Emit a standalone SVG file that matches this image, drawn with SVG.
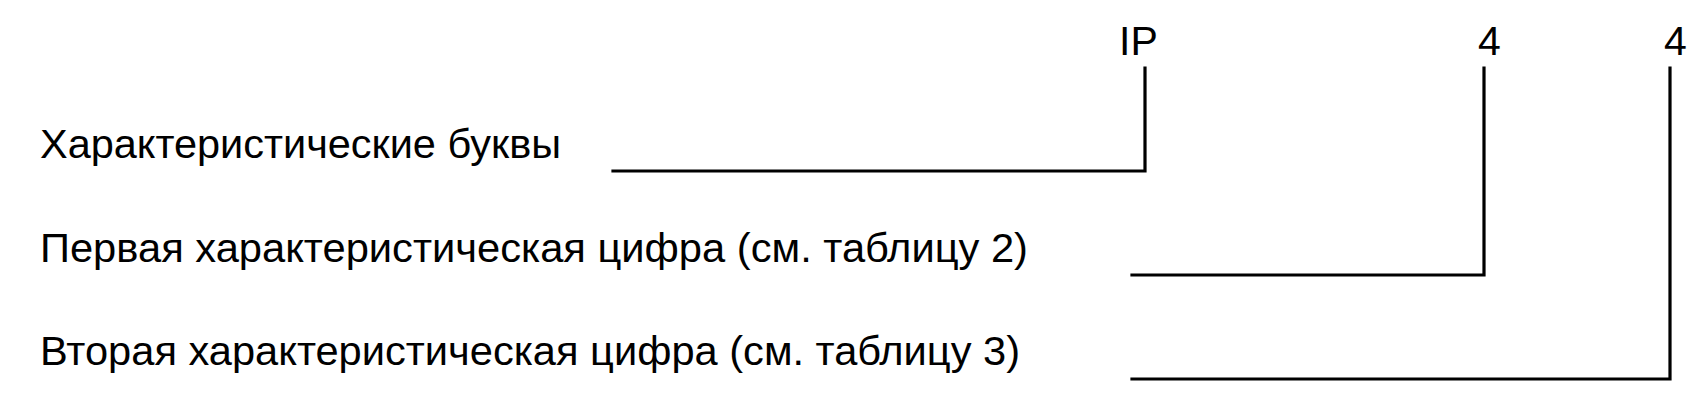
<svg xmlns="http://www.w3.org/2000/svg" width="1706" height="413" viewBox="0 0 1706 413">
<style>
text{font-family:"Liberation Sans",Arial,sans-serif;font-size:41px;fill:#000}
.c{fill:none;stroke:#000;stroke-width:3.2;stroke-linecap:square;stroke-linejoin:miter}
</style>
<rect width="1706" height="413" fill="#fff"/>
<g id="code-ip"><text x="1119" y="55">IP</text></g>
<g id="code-4a"><text x="1478" y="55">4</text></g>
<g id="code-4b"><text x="1664" y="55">4</text></g>
<g id="label-letters"><text x="40" y="158" textLength="521" lengthAdjust="spacingAndGlyphs">Характеристические буквы</text></g>
<g id="label-first"><text x="40" y="262" textLength="988" lengthAdjust="spacingAndGlyphs">Первая характеристическая цифра (см. таблицу 2)</text></g>
<g id="label-second"><text x="40" y="365" textLength="980" lengthAdjust="spacingAndGlyphs">Вторая характеристическая цифра (см. таблицу 3)</text></g>
<g id="connectors">
<polyline class="c" points="613,171 1145,171 1145,68"/>
<polyline class="c" points="1132,275 1484,275 1484,68"/>
<polyline class="c" points="1132,379 1670,379 1670,68"/>
</g>
</svg>
